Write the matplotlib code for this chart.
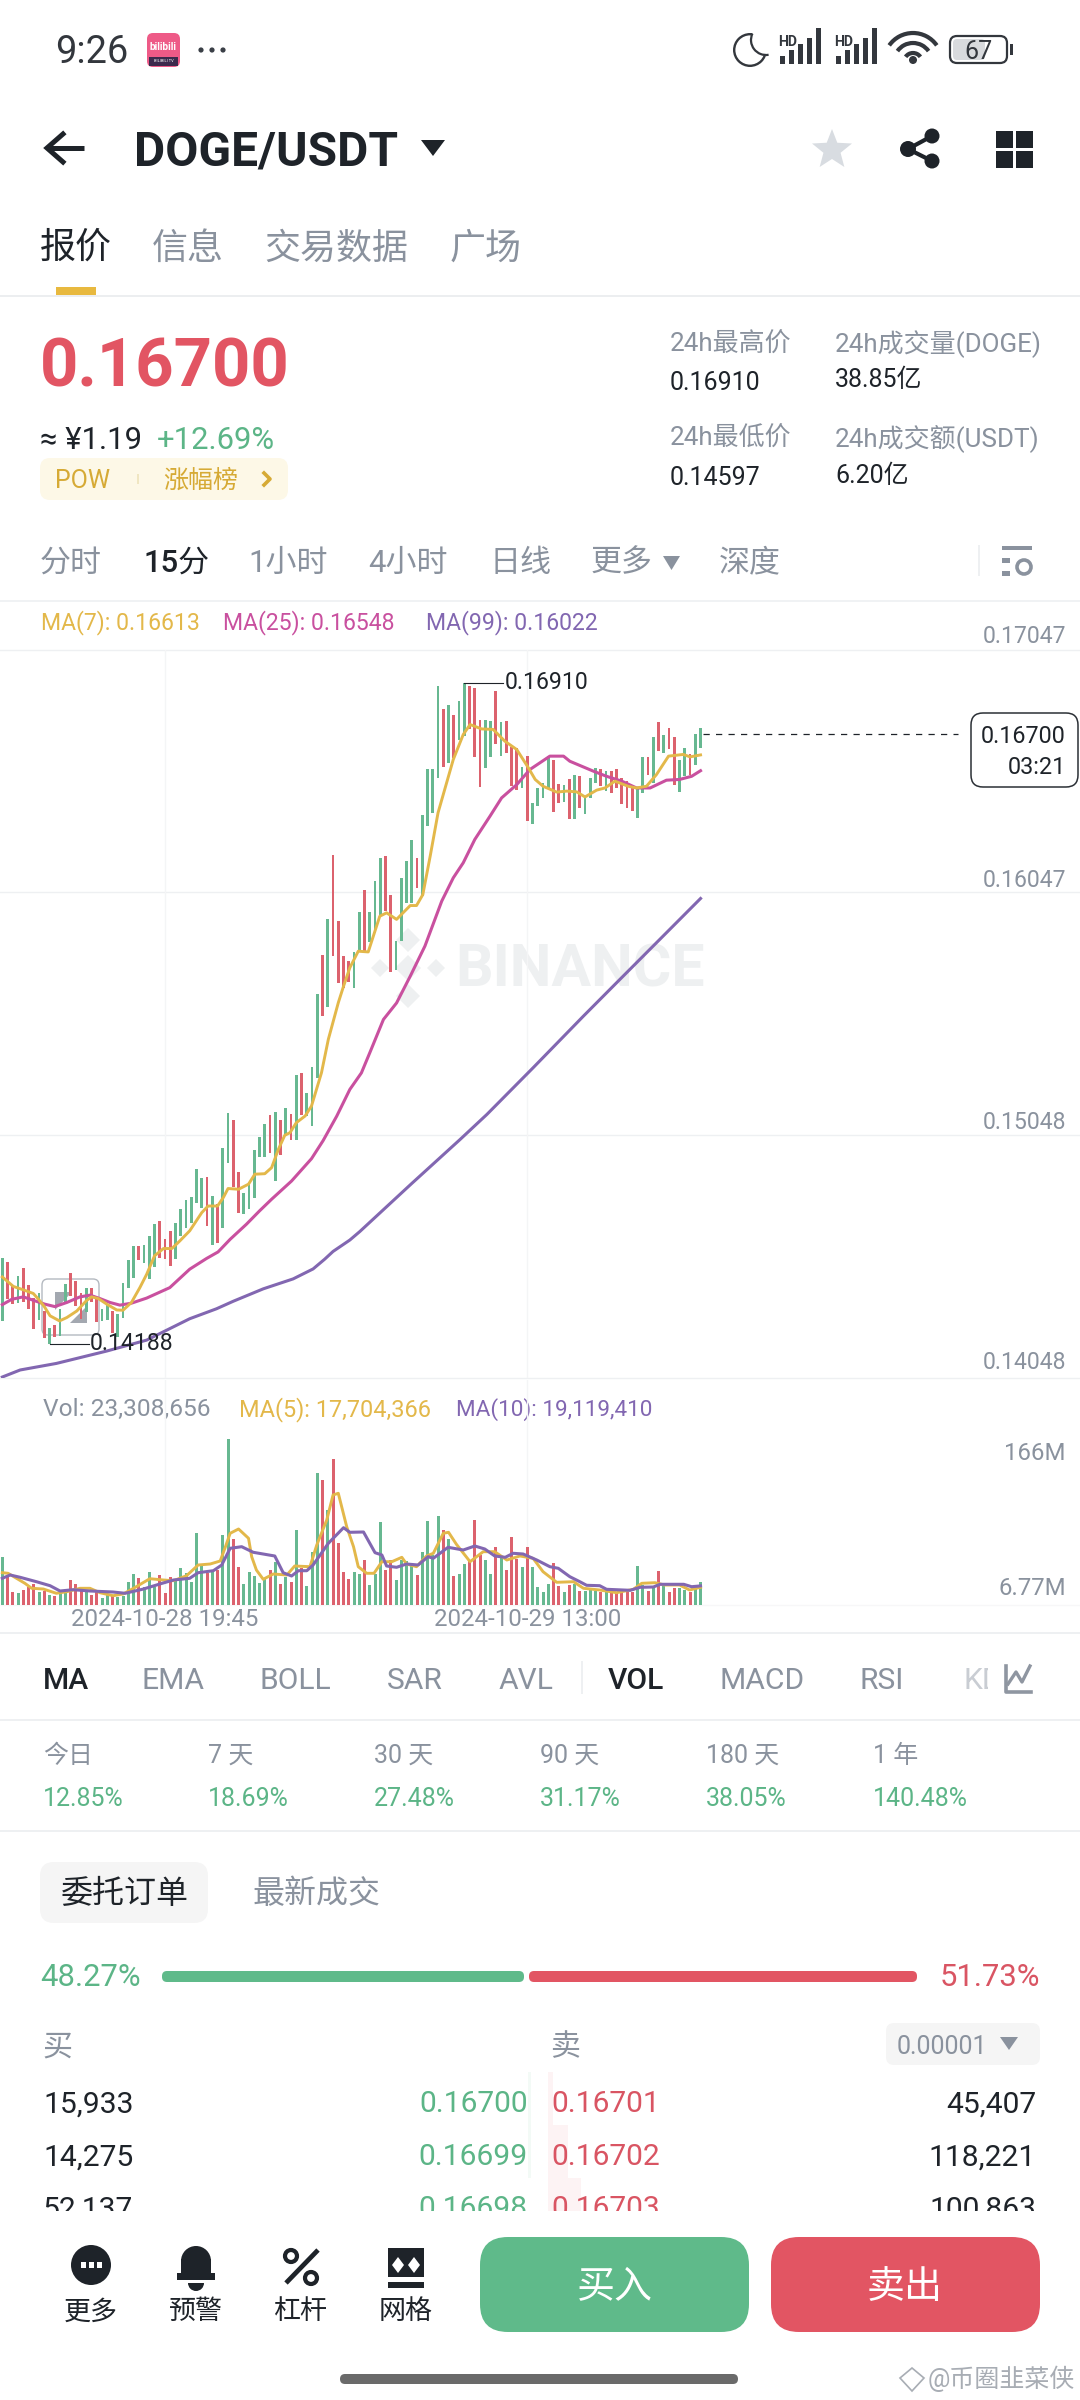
import numpy as np
import matplotlib
matplotlib.use('Agg')
import matplotlib.pyplot as plt
from matplotlib.patches import FancyBboxPatch, Rectangle, Polygon, Circle, Arc, Wedge

# ---------- data (prices in 1e-5 USDT, volumes in millions) ----------
candle_high = [14540,14527,14425,14466,14501,14430,14379,14396,14323,14252,
14268,14331,14433,14479,14446,14396,14419,14419,14375,14331,
14348,14324,14311,14441,14533,14591,14591,14597,14633,14680,
14696,14619,14652,14688,14743,14781,14792,14910,14870,14874,
14796,14763,14996,15138,15109,14896,14811,14855,14987,15042,
15095,15132,15142,15110,15161,15135,15297,15305,15220,15330,
15627,15790,15938,16199,15931,15787,15765,15802,15967,16056,
15966,16096,16189,16195,16038,15849,16106,16176,16261,16189,
16365,16553,16553,16896,16800,16819,16778,16837,16910,16895,
16889,16757,16755,16753,16878,16748,16752,16646,16642,16563,
16608,16416,16475,16498,16608,16594,16494,16488,16512,16532,
16525,16443,16519,16560,16553,16546,16546,16553,16519,16505,
16484,16477,16605,16605,16687,16749,16697,16722,16687,16594,
16642,16615,16700,16722]
candle_low = [14282,14372,14352,14356,14359,14334,14249,14287,14211,14188,
14215,14221,14359,14386,14345,14290,14318,14359,14279,14283,
14287,14235,14215,14297,14420,14460,14534,14523,14455,14503,
14544,14537,14510,14537,14633,14667,14685,14767,14747,14674,
14596,14605,14667,14932,14836,14729,14725,14745,14787,14957,
14959,14973,14859,14966,15044,15028,15028,15130,15127,15086,
15284,15538,15576,15785,15675,15654,15679,15654,15805,15805,
15844,15881,15949,15970,15719,15726,15846,16004,16004,16066,
16032,16320,16375,16519,16563,16580,16601,16676,16690,16718,
16605,16482,16560,16604,16656,16608,16622,16484,16468,16477,
16343,16329,16402,16436,16471,16377,16416,16420,16350,16350,
16395,16370,16436,16498,16484,16464,16457,16477,16409,16395,
16381,16354,16457,16532,16498,16631,16619,16639,16488,16460,
16525,16532,16573,16642]
candle_dir = list("GRRGRRRGRG" "RGGRRRGRRG" "GRGGGGRGGG" "RRRGGGGGGR" "GRGGRRGGGG"
                  "GRGRGRGRGG" "GRGRRRRGGR" "GGGRRGGGGR" "GGGGRGRGGR" "RRGGRGRRRG"
                  "RGGGGRRGRG" "RGGGRGRRRR" "RGGRGRGRRG" "GRGG")
volume = [48.3,30,13.3,12.3,15,18.3,21,12.7,14.3,10,9.3,11.7,11.7,25,20.7,17.7,15,10,12.7,7.3,
10,9.3,7.7,9,22.7,31,26.7,18.3,33.3,18.3,30,11.7,28.3,25,37,32.3,23.3,71.7,39,31.7,
33.3,35,69.7,166,66,38.3,21,32.7,29,21.7,25.7,35,43.3,20.7,28.3,23,75,36.7,19,53.3,
132.3,125,95,145.7,61.7,32.7,26,32.7,31,45,20,31,83.3,35,45,25,45,44,40,29.7,
53.3,84.3,50,89,75,66,29.3,30.7,41,45,85,50,45,31.3,57.7,46.7,35,68.3,46.3,37.7,
57.7,37.7,18.3,12.7,21,42.3,19,13.3,20,21,14,14.3,15.7,13.7,13.3,13.3,13.3,11.7,12.7,12.7,
13.3,39.3,20,14.3,16.7,34.3,20,12.7,17,17,15,12.7,15.7,23.3]

ma7_i = [0,2.1,4,5.9,6.9,8,9.1,10.9,12.3,14.2,16,17,18.3,19.9,21.8,23,24.6,26.2,27.5,29,30.7,32.3,33.8,35.7,38,39.2,41,42.1,43,45,46.9,48.1,50,51.3,52.6,53.8,54.8,56,57.7,58.9,60.8,62.1,64,65,66.2,67.8,69.7,71.9,73.2,75.1,77.7,78.9,80.1,81.5,83,85.9,87.8,89.1,91.3,93.5,95.7,98,100.2,101.5,103,105.6,107.5,109.4,111,113.2,114.8,116.7,119.2,120.8,122.7,124.6,126.9,129.7,131,133]
ma7_v = [14464,14425,14411,14396,14372,14342,14304,14283,14297,14324,14366,14382,14375,14352,14328,14327,14359,14420,14475,14551,14581,14581,14612,14654,14729,14756,14756,14791,14828,14825,14846,14887,14889,14914,14990,15047,15058,15099,15127,15168,15305,15442,15593,15661,15737,15805,15802,15949,15963,15936,15993,15993,16038,16196,16375,16594,16697,16738,16720,16718,16670,16635,16560,16512,16484,16460,16464,16461,16440,16468,16477,16505,16484,16477,16484,16532,16608,16615,16605,16613]
ma25_i = [0,1.8,4,5.9,8.1,10,12.3,14.8,16.7,18.6,20.5,22.4,24.6,27.5,31.9,35.7,38.9,41.1,43.4,46.5,49,51.3,55.1,58.9,61.1,63.7,66.2,68.4,70,72.6,75.1,77.7,80.5,83.7,85.9,87.8,90,92.9,95.1,98,100.5,104.3,106.9,108.1,112.6,115.1,118,120.8,123.4,126.5,129,131.3,133]
ma25_v = [14350,14372,14382,14368,14352,14342,14359,14382,14389,14375,14359,14348,14356,14377,14420,14496,14540,14567,14619,14681,14736,14784,14859,14951,15025,15126,15236,15304,15387,15524,15592,15702,15826,16011,16107,16169,16265,16361,16436,16491,16553,16608,16608,16587,16546,16525,16505,16477,16477,16509,16512,16525,16548]
ma99_i = [0,3.4,10.3,19.9,27.5,35.7,40.8,44,49.7,55.4,59.2,61.4,63,66.2,68.1,78,87.2,92.3,101.1,110.7,117,126.5,133]
ma99_v = [14052,14081,14108,14159,14204,14292,14333,14364,14415,14456,14497,14537,14569,14616,14651,14849,15030,15133,15325,15538,15675,15881,16022]
vma5_i = [0,1.1,2.7,4.3,5.6,7.8,10.3,12.3,14.8,16.7,18.6,21.1,23,25,28.1,30.7,32.6,35.1,37.3,39.6,41.5,42.4,43.4,45,46.9,47.5,48.4,49.7,51.6,54.2,55.7,58.6,59.9,61.8,63,64,65.6,66.9,67.8,69.4,70.8,72.3,74.2,76.1,77,78.9,80.8,82.1,84,85,86.5,89.1,91.6,93.8,96.1,98.6,101.1,103,105.6,108.8,110.7,113.8,117,120.2,121.8,124.3,126.2,129,130.9,133]
vma5_v = [32.3,31.7,26.7,21.7,16.7,16,11.7,13.3,16.7,16.7,12.3,9.3,11,16.7,26.3,25,24.3,29.3,40,41,44,56.7,71.7,76,66.7,48.3,35,25.7,31,30,39,38.3,60,85,110,111.7,78.3,58.3,38.3,31.7,31.7,43.3,43.3,47.7,41,38.3,49,51.7,71.7,72.7,60.7,43.3,53.3,53.3,45,49,46.7,33.3,22.7,23.3,16.7,15,12.3,15.7,21.7,22.3,20,20,15,17.7]
vma10_i = [0,1.5,3.4,6.5,9.1,11,13.5,16.7,21.1,23.4,26.9,30,32.6,35.7,37.3,40.2,41.8,43.4,45.6,47.8,51.9,53.5,55.1,56.4,58,59.2,62.1,65,66.2,68.8,71,72.3,73.2,75.1,77,79.2,81.1,82.1,84.9,87.8,90,91.9,93.8,95.8,97.3,99.2,101.8,104.3,105.9,108.1,110,111.3,113.8,115.1,119.6,121.5,124,125.3,129.8,131.3,133]
vma10_v = [26.7,30,27.7,23.3,19.3,14,15.3,14,13,11.7,16,21,25,26.7,32.3,34.3,40,56.7,58.3,52.7,49,32.3,29,34.3,34.3,40,61.7,77.3,72.7,73,52.3,50,39,37.7,41,40,48.3,46.7,57.7,55,59,56,49,47.7,51.7,51,45,38.3,36.7,28.3,23.3,19.7,19.3,15.7,14.7,17.7,18,20.7,20.7,18.3,19.1]

price_ticks = ["0.17047", "0.16047", "0.15048", "0.14048"]
grid_prices = [0.17047, 0.16047, 0.15048, 0.14048]
last_price = 0.16700
high_label, low_label = 0.16910, 0.14188
high_idx, low_idx = 88, 9
date_idx = [31, 100]
date_labels = ["2024-10-28 19:45", "2024-10-29 13:00"]

intervals = ["分时", "15分", "1小时", "4小时", "日线", "更多", "深度"]
interval_x = [40, 144, 248, 368, 490, 591, 719]
ind_tabs = ["MA", "EMA", "BOLL", "SAR", "AVL", "VOL", "MACD", "RSI"]
ind_x = [43, 142, 260, 387, 499, 608, 720, 859]
period_names = ["今日", "7 天", "30 天", "90 天", "180 天", "1 年"]
period_vals = ["12.85%", "18.69%", "27.48%", "31.17%", "38.05%", "140.48%"]
period_x = [43, 208, 374, 540, 706, 873]
bid_qty = ["15,933", "14,275", "52,137"]
bid_price = ["0.16700", "0.16699", "0.16698"]
ask_price = ["0.16701", "0.16702", "0.16703"]
ask_qty = ["45,407", "118,221", "100,863"]
tools = ["更多", "预警", "杠杆", "网格"]
tool_x = [91, 196, 301, 406]

# ---------- colours ----------
GREEN, RED = '#67b891', '#dc626e'
TGREEN, TRED = '#5cb587', '#d95563'
YEL, MAG, PUR = '#e3b84a', '#c9509f', '#8267b1'
DARK, GREY = '#1e2329', '#8a929e'
LINE = '#eef0f2'
FONT = ['Roboto', 'Noto Sans CJK SC', 'DejaVu Sans']

W, H = 1080, 2400
fig = plt.figure(figsize=(W / 100, H / 100), dpi=100, facecolor='white')
ui = fig.add_axes([0, 0, 1, 1], zorder=1)
ui.set_xlim(0, W); ui.set_ylim(H, 0); ui.axis('off')


def T(x, y, s, px=26, c=DARK, ha='left', w='normal', z=5, **kw):
    return ui.text(x, y + px * 0.07, s, fontsize=px * 0.72, color=c, ha=ha, va='center',
                   family=FONT, fontweight=w, zorder=z, **kw)


def R(x0, y0, x1, y1, c, z=2):
    ui.add_patch(Rectangle((x0, y0), x1 - x0, y1 - y0, fc=c, ec='none', zorder=z))


def RR(x0, y0, x1, y1, r, fc, ec='none', lw=0, z=2):
    ui.add_patch(FancyBboxPatch((x0 + r, y0 + r), x1 - x0 - 2 * r, y1 - y0 - 2 * r,
                                boxstyle=f'round,pad={r},rounding_size={r}',
                                fc=fc, ec=ec, lw=lw, zorder=z))


def P(pts, c, z=3):
    ui.add_patch(Polygon(pts, closed=True, fc=c, ec='none', zorder=z))


def L(x0, y0, x1, y1, c=LINE, lw=1.4, z=2, **kw):
    ui.plot([x0, x1], [y0, y1], color=c, lw=lw, zorder=z, solid_capstyle='butt', **kw)


# ---------- chart axes ----------
def axes_px(x0, y0, x1, y1):
    a = fig.add_axes([x0 / W, 1 - y1 / H, (x1 - x0) / W, (y1 - y0) / H], zorder=2)
    a.patch.set_alpha(0)
    for s in a.spines.values():
        s.set_visible(False)
    a.set_xticks([]); a.set_yticks([])
    return a


I0, DI = 2.3, 5.25  # px of first candle, px per candle
xlim = (-I0 / DI, (W - I0) / DI)
Y_TOP, Y_BOT = 649.5, 1378.0
pa = axes_px(0, Y_TOP, W, Y_BOT)
pa.set_xlim(*xlim); pa.set_ylim(grid_prices[3], grid_prices[0])
va = axes_px(0, 1380, W, 1605)
va.set_xlim(*xlim); va.set_ylim(0, 225)

idx = np.arange(len(candle_high))
hi = np.array(candle_high) / 1e5
lo = np.array(candle_low) / 1e5
cols = [GREEN if d == 'G' else RED for d in candle_dir]

for g in grid_prices:
    pa.axhline(g, color=LINE, lw=1.0, zorder=0, clip_on=False)
for d in date_idx:
    pa.axvline(d, color='#f4f5f6', lw=1.0, zorder=0)
    va.axvline(d, color='#f4f5f6', lw=1.0, zorder=0)

pa.bar(idx, hi - lo, bottom=lo, width=0.54, color=cols, zorder=3)
pa.plot(ma99_i, np.array(ma99_v) / 1e5, color=PUR, lw=2.2, zorder=4)
pa.plot(ma25_i, np.array(ma25_v) / 1e5, color=MAG, lw=2.2, zorder=5)
pa.plot(ma7_i, np.array(ma7_v) / 1e5, color=YEL, lw=2.1, zorder=6)

# high / low callouts
CALL_PT = 16.6
pa.plot([high_idx, high_idx + 7.4], [high_label, high_label], color=DARK, lw=0.8, zorder=7)
pa.text(high_idx + 7.7, high_label, f"{high_label:.5f}", fontsize=CALL_PT, va='center', color=DARK, family=FONT, zorder=7)
pa.plot([low_idx, low_idx + 7.5], [low_label, low_label], color=DARK, lw=0.8, zorder=7)
pa.text(low_idx + 7.7, low_label, f"{low_label:.5f}", fontsize=CALL_PT, va='center', color=DARK, family=FONT, zorder=7)
# last price
pa.plot([idx[-1] + 0.4, 182], [last_price, last_price], color=DARK, lw=0.9, dashes=(5, 5), zorder=7)

va.bar(idx, volume, width=0.56, color=cols, zorder=3)
va.plot(vma5_i, vma5_v, color=YEL, lw=2.1, zorder=4)
va.plot(vma10_i, vma10_v, color=PUR, lw=2.2, zorder=5)

# ---------- status bar ----------
T(55, 50, "9:26", 38, '#33373d')
RR(147, 33, 180, 67, 6, '#ee5a87', z=3)
R(149, 57, 178, 66, '#3c2a4d', z=4)
T(163.5, 46, "bilibili", 10, 'white', ha='center', w='bold')
T(163.5, 61, "BILIBILI TV", 4, 'white', ha='center')
for x in (201, 212, 223):
    ui.add_patch(Circle((x, 50), 2.6, fc='#3a3f46', ec='none', zorder=3))
ui.add_patch(Circle((750, 50), 17, fc='#33373d', ec='none', zorder=3))
ui.add_patch(Circle((750, 50), 14.6, fc='white', ec='none', zorder=3.1))
ui.add_patch(Circle((766, 40), 15, fc='white', ec='none', zorder=3.2))
ui.add_patch(Arc((766, 40), 30, 30, theta1=80, theta2=205, ec='#33373d', lw=1.6, zorder=3.3))
for x0 in (778, 834):
    T(x0 + 0, 41, "HD", 14, '#33373d', w='bold')
    for k, h in enumerate([8, 14, 20, 26, 36]):
        R(x0 + 2 + k * 9, 64 - h, x0 + 7 + k * 9, 64, '#33373d', z=3)
for r in (8, 18, 28):
    ui.add_patch(Arc((913, 62), 2 * r + 2, 2 * r + 2, theta1=215, theta2=325, ec='#33373d', lw=3, zorder=3))
ui.add_patch(Circle((913, 60), 4, fc='#33373d', ec='none', zorder=3))
RR(950, 36, 1007, 63, 7, 'none', '#33373d', 1.6, z=3)
RR(953, 39, 985, 60, 4, '#d8dadd', z=2)
R(1010, 44, 1013, 55, '#33373d')
T(978, 50, "67", 25, '#33373d', ha='center')

# ---------- header ----------
L(48, 148, 84, 148, DARK, 3.6)
ui.plot([63, 47, 63], [134, 148, 162], color=DARK, lw=3.6, zorder=3, solid_joinstyle='miter')
T(134, 149, "DOGE/USDT", 48, DARK, w='bold')
P([(421, 140), (445, 140), (433, 156)], DARK)
star_a = np.deg2rad(np.arange(10) * 36 - 90)
star_r = np.array([21, 9] * 5)
P(list(zip(832 + star_r * np.cos(star_a), 150 + star_r * np.sin(star_a))), '#d8dce1')
for cx, cy, r in ((932, 136, 7.5), (908, 149, 8), (932, 161, 7.5)):
    ui.add_patch(Circle((cx, cy), r, fc=DARK, ec='none', zorder=3))
L(932, 136, 908, 149, DARK, 3); L(908, 149, 932, 161, DARK, 3)
for x, y in ((996, 131), (1016, 131), (996, 151), (1016, 151)):
    R(x, y, x + 17, y + 17, DARK)

# ---------- tabs ----------
T(40, 246, "报价", 36, DARK, w='medium')
T(152, 246, "信息", 36, GREY)
T(264, 246, "交易数据", 36, GREY)
T(450, 246, "广场", 36, GREY)
R(56, 287, 96, 295, '#e8b93f')
L(0, 296, W, 296, '#eceef0', 1.4)

# ---------- price block ----------
T(40, 364, "0.16700", 67, '#e25563', w='bold')
T(40, 438, "≈ ¥1.19", 31, DARK)
T(157, 438, "+12.69%", 31, TGREEN)
RR(40, 458, 288, 500, 10, '#fdf8e7')
T(55, 479, "POW", 25, '#d6aa35')
R(137, 474, 139, 484, '#f0e6c2', z=3)
T(163, 479, "涨幅榜", 25, '#d6aa35')
ui.plot([264, 270, 264], [473, 479, 485], color='#d6aa35', lw=2.6, zorder=3)
T(670, 343, "24h最高价", 26, GREY)
T(670, 381, "0.16910", 25, DARK)
T(835, 342, "24h成交量(DOGE)", 26, GREY)
T(835, 378, "38.85亿", 25, DARK)
T(670, 437, "24h最低价", 26, GREY)
T(670, 476, "0.14597", 25, DARK)
T(835, 437, "24h成交额(USDT)", 26, GREY)
T(835, 474, "6.20亿", 25, DARK)

# ---------- interval row ----------
for s, x in zip(intervals, interval_x):
    if s == "15分":
        T(x, 561, s, 31, DARK, w='medium')
    else:
        T(x, 561, s, 31, GREY)
P([(663, 556), (680, 556), (671.5, 570)], GREY)
R(978, 545, 980, 576, LINE)
R(1002, 546, 1032, 550, GREY); R(1002, 558, 1010, 563, GREY); R(1002, 571, 1010, 576, GREY)
ui.add_patch(Circle((1024, 567), 7, fc='none', ec=GREY, lw=2.6, zorder=3))
L(0, 601, W, 601, LINE, 1.2)

# ---------- legends and axis labels ----------
T(41, 621, "MA(7): 0.16613", 23, YEL)
T(223, 621, "MA(25): 0.16548", 23, MAG)
T(426, 621, "MA(99): 0.16022", 23, PUR)
for s, y in zip(price_ticks, (635, 879, 1121, 1361)):
    T(1066, y, s, 23, GREY, ha='right')
RR(971, 713, 1078, 787, 12, 'white', '#2b3036', 1.1, z=3)
T(1066, 735, f"{last_price:.5f}", 23.4, DARK, ha='right')
T(1066, 766, "03:21", 23.4, DARK, ha='right')
T(43, 1408, "Vol: 23,308,656", 24.5, GREY)
T(239, 1408, "MA(5): 17,704,366", 23.5, YEL)
T(456, 1408, "MA(10): 19,119,410", 22.5, PUR)
T(1066, 1452, "166M", 24, GREY, ha='right')
T(1066, 1587, "6.77M", 24, GREY, ha='right')
for d, s in zip(date_idx, date_labels):
    T(I0 + d * DI, 1618, s, 24, GREY, ha='center')
L(0, 1605, W, 1605, '#f7f7f8', 1.0)
L(0, 1633, W, 1633, LINE, 1.4)

# watermarks
WM = '#eef0f1'
T(455, 966, "BINANCE", 59, WM, w='bold', z=1)
for cx, cy, r in ((408, 968, 13), (408, 940, 12), (408, 996, 12), (380, 968, 9), (436, 968, 9)):
    P([(cx - r, cy), (cx, cy - r), (cx + r, cy), (cx, cy + r)], WM, z=1)
RR(42, 1279, 99, 1335, 6, 'white', '#b4b9c0', 1.0, z=1)
P([(55, 1292), (72, 1292), (55, 1310)], '#a3a8b0', z=1)
P([(87, 1323), (70, 1323), (87, 1306)], '#a3a8b0', z=1)

# ---------- indicator tabs ----------
for s, x in zip(ind_tabs, ind_x):
    dark = s in ("MA", "VOL")
    T(x, 1679, s, 30, DARK if dark else GREY, w='medium' if dark else 'normal')
T(963, 1679, "KD", 30, '#c9cdd3')
R(988, 1660, 1000, 1700, '#ffffff', z=6)
R(581, 1661, 582.5, 1694, LINE)
ui.plot([1006, 1006, 1031], [1666, 1692, 1692], color='#8f96a1', lw=2.6, zorder=7)
ui.plot([1008, 1016, 1022, 1030], [1684, 1672, 1682, 1666], color='#8f96a1', lw=2.4, zorder=7)
L(0, 1720, W, 1720, LINE, 1.4)

# ---------- period stats ----------
for x, n, v in zip(period_x, period_names, period_vals):
    T(x, 1754, n, 25, GREY)
    T(x, 1797, v, 25, TGREEN)
L(0, 1831, W, 1831, LINE, 1.4)

# ---------- order book ----------
RR(40, 1862, 208, 1923, 14, '#f5f5f5')
T(61, 1892, "委托订单", 32, DARK)
T(252, 1892, "最新成交", 32, GREY)
T(40, 1975, "48.27%", 31, TGREEN)
RR(162, 1971, 524, 1982, 5, '#5fba8a')
RR(529, 1971, 917, 1982, 5, '#e25563')
T(1040, 1975, "51.73%", 31, TRED, ha='right')
T(42, 2045, "买", 30, GREY)
T(550, 2045, "卖", 30, GREY)
RR(886, 2023, 1040, 2065, 8, '#f5f5f5')
T(897, 2045, "0.00001", 25, GREY)
P([(1000, 2037), (1018, 2037), (1009, 2050)], GREY)
R(548, 2072, 553, 2125, '#fdf3f4', z=1)
R(548, 2125, 568, 2178, '#fdf3f4', z=1)
R(548, 2178, 581, 2211, '#fdf3f4', z=1)
R(528, 2072, 531, 2178, '#f3faf6', z=1)
for y, a, b, c, d in zip((2102, 2155, 2207), bid_qty, bid_price, ask_price, ask_qty):
    T(43, y, a, 30, DARK)
    T(528, y, b, 30, TGREEN, ha='right')
    T(551, y, c, 30, TRED)
    T(1036, y, d, 30, DARK, ha='right')
R(0, 2211, W, H, 'white', z=6)

# ---------- bottom bar ----------
ui.add_patch(Circle((91, 2265), 20, fc=DARK, ec='none', zorder=7))
for dx in (-8, 0, 8):
    R(91 + dx - 2.5, 2262, 91 + dx + 2.5, 2268, 'white', z=8)
ui.add_patch(Wedge((196, 2261), 15, 180, 360, fc=DARK, ec='none', zorder=7))
ui.add_patch(Rectangle((181, 2259), 30, 14, fc=DARK, ec='none', zorder=7))
R(177, 2273, 215, 2280, DARK, z=7)
ui.add_patch(Wedge((196, 2283), 8, 0, 180, fc=DARK, ec='none', zorder=7))
L(286, 2283, 318, 2250, DARK, 3.4, z=7)
ui.add_patch(Circle((291, 2256), 6, fc='white', ec=DARK, lw=3, zorder=7))
ui.add_patch(Circle((311, 2278), 6, fc='white', ec=DARK, lw=3, zorder=7))
R(388, 2248, 424, 2277, DARK, z=7)
R(388, 2282, 424, 2288, DARK, z=7)
P([(398, 2257), (404, 2265), (398, 2273), (392, 2265)], 'white', z=8)
P([(414, 2257), (420, 2265), (414, 2273), (408, 2265)], 'white', z=8)
for x, s in zip(tool_x, tools):
    T(x, 2310, s, 27, DARK, ha='center', z=7)
RR(480, 2237, 749, 2332, 28, '#5fba8a', z=7)
T(615, 2285, "买入", 38, 'white', ha='center', z=8, w='medium')
RR(771, 2237, 1040, 2332, 28, '#e25563', z=7)
T(905, 2285, "卖出", 38, 'white', ha='center', z=8, w='medium')
RR(340, 2374, 738, 2384, 5, '#6a6a6a', z=7)
T(928, 2377, "@币圈韭菜侠", 25, '#a8adb4', z=8)
ui.add_patch(Polygon([(900, 2378), (912, 2368), (924, 2378), (912, 2391)], fc='none', ec='#a8adb4', lw=1.2, zorder=8))

fig.savefig('out.png', dpi=100, facecolor='white')
